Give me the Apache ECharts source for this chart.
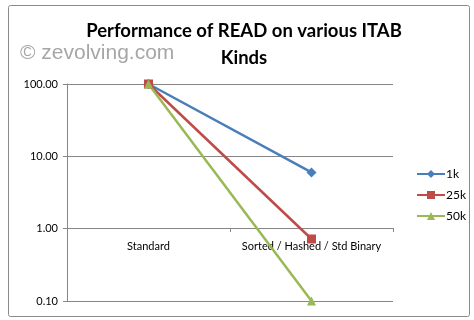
<!DOCTYPE html>
<html><head><meta charset="utf-8">
<script src="https://cdn.jsdelivr.net/npm/echarts@6/dist/echarts.min.js"></script>
<style>html,body{margin:0;padding:0;background:#fff}#c{width:474px;height:320px}</style>
</head><body><div id="c"></div>
<script>
var categories = ['Standard', 'Sorted / Hashed / Std Binary'];
var s1k = [100, 6];
var s25k = [100, 0.72];
var s50k = [100, 0.1];
var seriesNames = ['1k', '25k', '50k'];
var colors = ['#4A7EBB', '#BE4B48', '#98B954'];
var symbols = ['diamond', 'rect', 'triangle'];

var chart = echarts.init(document.getElementById('c'));
var font = 'Lato, "Open Sans", sans-serif';
var dataSets = [s1k, s25k, s50k];
var series = dataSets.map(function (d, i) {
  return {
    name: seriesNames[i], type: 'line', data: d, xAxisIndex: 0, yAxisIndex: 0,
    symbol: symbols[i], symbolSize: symbols[i] === 'diamond' ? 10 : 9,
    lineStyle: { width: 2.5, color: colors[i] },
    itemStyle: { color: colors[i] }
  };
});
chart.setOption({
  animation: false,
  title: {
    text: 'Performance of READ on various ITAB\nKinds',
    left: 239, top: 13, textAlign: 'center',
    textStyle: { fontFamily: font, fontWeight: 'bold', fontSize: 18.5, color: '#000', lineHeight: 27 }
  },
  graphic: [
    { type: 'rect', shape: { x: 8.5, y: 5.5, width: 461, height: 311, r: 2 },
      style: { fill: 'none', stroke: '#8a8a8a', lineWidth: 1 }, z: -1 },
    { type: 'text', left: 20, top: 43,
      style: { text: '\u00a9 zevolving.com', fill: '#a6a6a6', font: '21px "Liberation Sans", Arial, sans-serif' } }
  ],
  legend: {
    orient: 'vertical', left: 411, top: 163, itemGap: 9, itemWidth: 28, itemHeight: 10,
    textStyle: { fontFamily: font, fontSize: 12, color: '#000', padding: [0, 0, 0, -4] },
    data: seriesNames
  },
  grid: [
    { left: 67, right: 81, top: 84, bottom: 19 },
    { left: 67, right: 81, top: 84, bottom: 92 }
  ],
  xAxis: [
    { type: 'category', data: categories, gridIndex: 0, boundaryGap: true,
      axisLine: { show: false }, axisTick: { show: false }, axisLabel: { show: false } },
    { type: 'category', data: categories, gridIndex: 1, boundaryGap: true, position: 'bottom',
      axisLine: { show: true, onZero: false, lineStyle: { color: '#868686', width: 1 } },
      axisTick: { show: true, interval: 0, length: 4, lineStyle: { color: '#868686' } },
      axisLabel: { interval: 0, hideOverlap: false, margin: 13, fontFamily: font, fontSize: 11, color: '#000' } }
  ],
  yAxis: [
    { type: 'log', logBase: 10, min: 0.1, max: 100, gridIndex: 0,
      axisLine: { show: true, lineStyle: { color: '#868686', width: 1 } },
      axisTick: { show: true, length: 4, lineStyle: { color: '#868686' } },
      splitLine: { show: true, lineStyle: { color: '#868686', width: 1 } },
      axisLabel: { margin: 9, fontFamily: font, fontSize: 11, color: '#000',
        formatter: function (v) { return Number(v).toFixed(2); } } },
    { type: 'value', gridIndex: 1, min: 0, max: 1, show: false }
  ],
  series: series
});
</script></body></html>
